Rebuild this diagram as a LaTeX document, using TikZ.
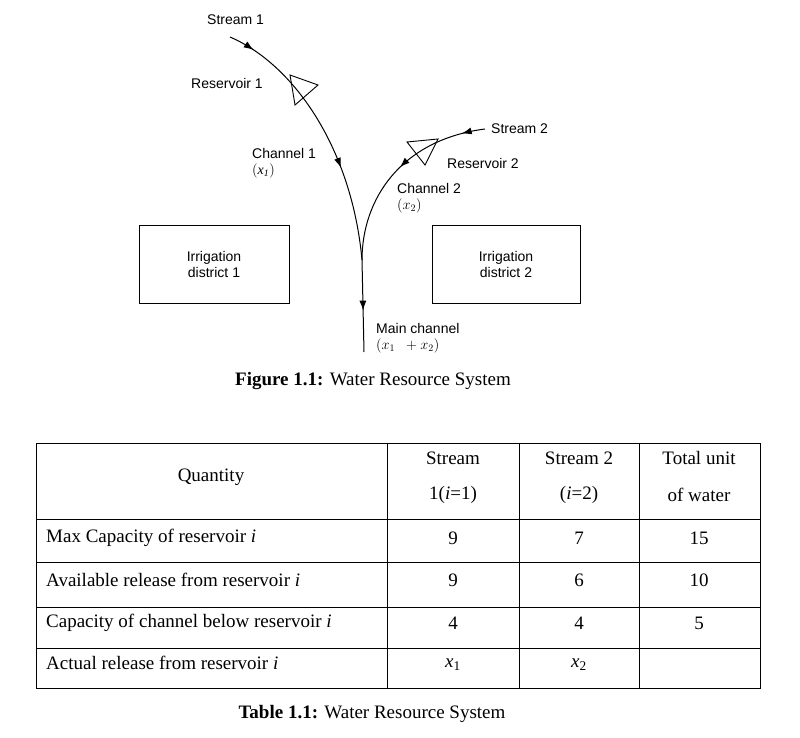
\documentclass[tikz,border=0pt]{standalone}
\usepackage{fontspec}
\setmainfont{Liberation Serif}
\newfontfamily\myss{Liberation Sans}
\usetikzlibrary{decorations.markings,arrows.meta}
\begin{document}
\begin{tikzpicture}[x=1pt,y=-1pt,
  lbl/.style={font=\myss\fontsize{14}{16}\selectfont,align=left,inner sep=0pt},
  box/.style={draw,line width=1pt,align=center,font=\myss\fontsize{14}{16}\selectfont},
  tri/.style={draw,line width=0.9pt},
  cell/.style={font=\fontsize{19}{22}\selectfont,inner sep=0pt},
  mk/.style={postaction={decorate},decoration={markings,#1}},
  flow/.style={line width=1pt},
  ah/.style={}]
\useasboundingbox (0,0) rectangle (800,738);
\coordinate (s1) at (230,37);
\coordinate (m) at (362,260);
\coordinate (out) at (364,352);
\coordinate (s2) at (485,129);
\node[box,minimum width=150,minimum height=78] (ir1) at (214,264) {Irrigation\\district 1};
\node[box,minimum width=148,minimum height=78] (ir2) at (506,264) {Irrigation\\district 2};
\node[lbl,anchor=west] (ls1) at (207,20) {Stream 1};
\node[lbl,anchor=west] (lr1) at (191,83) {Reservoir 1};
\node[lbl,anchor=west] (lc1) at (252,163) {Channel 1\\$\mathit{(x_1)}$};
\node[lbl,anchor=west] (ls2) at (491,129) {Stream 2};
\node[lbl,anchor=west] (lr2) at (447,163) {Reservoir 2};
\node[lbl,anchor=west] (lc2) at (397,198) {Channel 2\\$(x_2)$};
\node[lbl,anchor=west] (lm) at (376,338) {Main channel\\$(x_1\ \ +x_2)$};
\draw[flow,mk={mark=at position 0.1 with {\arrow{Latex[length=10pt,width=7pt]}},
  mark=at position 0.65 with {\arrow{Latex[length=10pt,width=7pt]}}}]
  (s1) .. controls (295,65) and (352,150) .. (m);
\draw[flow,mk={mark=at position 0.55 with {\arrow{Latex[length=10pt,width=7pt]}}}] (m) -- (out);
\draw[flow,mk={mark=at position 0.12 with {\arrow{Latex[length=10pt,width=7pt]}},
  mark=at position 0.48 with {\arrow{Latex[length=10pt,width=7pt]}}}]
  (s2) .. controls (400,140) and (362,200) .. (m);
\draw[tri] (290,75) -- (318,85) -- (295,105) -- cycle;
\draw[tri] (407,142) -- (438,139) -- (425,165) -- cycle;
\node[font=\fontsize{19}{22}\selectfont] (cap1) at (373,381) {\textbf{Figure 1.1:} Water Resource System};
\draw[line width=0.8pt] (36,443) rectangle (760,688);
\foreach \y in {519,562,607,648} \draw[line width=0.8pt] (36,\y) -- (760,\y);
\foreach \x in {387,519,639} \draw[line width=0.8pt] (\x,443) -- (\x,688);
\node[cell] (q) at (211,477) {Quantity};
\node[cell] (h1a) at (453,458) {Stream};
\node[cell] (h1b) at (453,495) {1(\textit{i}=1)};
\node[cell] (h2a) at (579,458) {Stream 2};
\node[cell] (h2b) at (579,495) {(\textit{i}=2)};
\node[cell] (h3a) at (699,458) {Total unit};
\node[cell] (h3b) at (699,495) {of water};
\node[cell,anchor=west] (r1) at (46,538) {Max Capacity of reservoir \textit{i}};
\node[cell,anchor=west] (r2) at (46,580) {Available release from reservoir \textit{i}};
\node[cell,anchor=west] (r3) at (46,623) {Capacity of channel below reservoir \textit{i}};
\node[cell,anchor=west] (r4) at (46,663) {Actual release from reservoir \textit{i}};
\node[cell] at (453,538) {9};\node[cell] at (579,538) {7};\node[cell] at (699,538) {15};
\node[cell] at (453,580) {9};\node[cell] at (579,580) {6};\node[cell] at (699,580) {10};
\node[cell] at (453,623) {4};\node[cell] at (579,623) {4};\node[cell] at (699,623) {5};
\node[cell] at (453,665) {\textit{x}\textsubscript{1}};\node[cell] at (579,665) {\textit{x}\textsubscript{2}};
\node[font=\fontsize{19}{22}\selectfont] (cap2) at (372,714) {\textbf{Table 1.1:} Water Resource System};
\end{tikzpicture}
\end{document}
